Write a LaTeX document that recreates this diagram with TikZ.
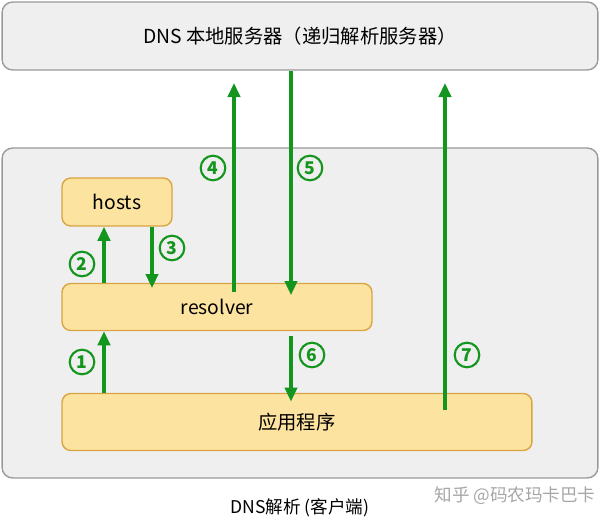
\documentclass[tikz,border=0pt]{standalone}
\usepackage{fontspec}
\setmainfont{Noto Sans CJK SC}
\usetikzlibrary{positioning, arrows.meta}
\definecolor{boxgray}{HTML}{EFEFEF}
\definecolor{edgegray}{HTML}{9A9A9A}
\definecolor{fillyel}{HTML}{FDE3A0}
\definecolor{edgeyel}{HTML}{D9A441}
\definecolor{arrgreen}{HTML}{14961E}
\tikzstyle{arrow} = [line width=1.8pt,->,>={Triangle[length=8pt,width=7pt]},arrgreen]
\begin{document}
\begin{tikzpicture}[x=0.02cm, y=-0.02cm,
    graybox/.style={draw=edgegray, fill=boxgray, rounded corners=6pt, line width=0.8pt},
    yelbox/.style={draw=edgeyel, fill=fillyel, rounded corners=5pt, line width=0.8pt, font=\fontsize{11}{13}\selectfont},
    num/.style={circle, draw=arrgreen, line width=1.2pt, text=arrgreen, inner sep=0pt, minimum size=14pt, font=\bfseries\fontsize{10}{10}\selectfont}
  ]
  \useasboundingbox (0,0) rectangle (600,524);

  % outer boxes
  \node[graybox, minimum width=11.92cm, minimum height=1.36cm, font=\fontsize{11}{13}\selectfont] (server) at (300,36) {DNS 本地服务器（递归解析服务器）};
  \node[graybox, minimum width=11.92cm, minimum height=6.6cm] (client) at (300,313) {};

  % inner boxes
  \node[yelbox, minimum width=2.2cm, minimum height=0.96cm] (hosts) at (117,202) {hosts};
  \node[yelbox, minimum width=6.2cm, minimum height=0.94cm] (res) at (217,307) {resolver};
  \node[yelbox, minimum width=9.4cm, minimum height=1.14cm] (app) at (297,422) {应用程序};

  % arrows
  \draw[arrow] (app.north -| 104,0) -- (res.south -| 104,0);
  \draw[arrow] (res.north -| 104,0) -- (hosts.south -| 104,0);
  \draw[arrow] (hosts.south -| 152,0) -- ([yshift=-3pt]res.north -| 152,0);
  \draw[arrow] ([yshift=-5pt]res.north -| 234,0) -- ([yshift=-7pt]server.south -| 234,0);
  \draw[arrow] (server.south -| 291,0) -- ([yshift=-7pt]res.north -| 291,0);
  \draw[arrow] ([yshift=-3pt]res.south -| 291,0) -- ([yshift=-5pt]app.north -| 291,0);
  \draw[arrow] ([yshift=-10pt]app.north -| 445,0) -- ([yshift=-7pt]server.south -| 445,0);

  % step labels
  \node[num] (n1) at (82,362) {1};
  \node[num] (n2) at (82,264) {2};
  \node[num] (n3) at (172,248) {3};
  \node[num] (n4) at (213,168) {4};
  \node[num] (n5) at (310,168) {5};
  \node[num] (n6) at (312,355) {6};
  \node[num] (n7) at (467,355) {7};

  % caption
  \node[font=\fontsize{10}{12}\selectfont] (cap) at (300,508) {DNS解析 (客户端)};
  \node[font=\fontsize{10}{12}\selectfont, text=gray!70, inner sep=1pt] (mark) at (515,496) {知乎 @码农玛卡巴卡};
\end{tikzpicture}
\end{document}
